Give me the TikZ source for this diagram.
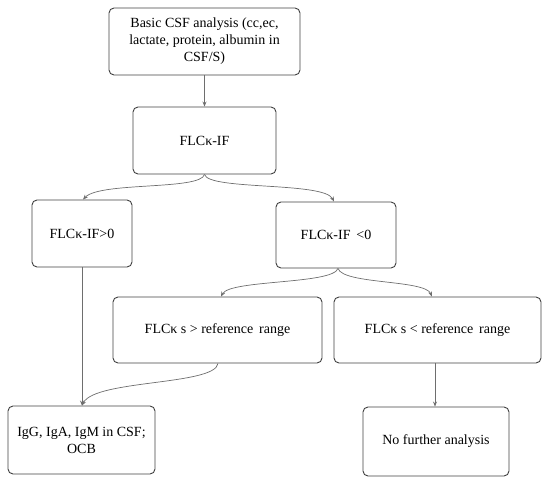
\documentclass[tikz,border=0pt]{standalone}
\usepackage{fontspec}
\setmainfont{Liberation Serif}
\usetikzlibrary{arrows.meta}
\definecolor{boxline}{HTML}{404040}
\definecolor{conn}{HTML}{6E6E6E}
\begin{document}
\begin{tikzpicture}[x=1pt,y=-1pt,
  box/.style={draw=boxline, line width=0.9pt, rounded corners=5pt, align=center,
    font=\fontsize{14}{17}\selectfont, inner sep=2pt},
  conn/.style={draw=conn, line width=0.7pt, -{Stealth[length=5pt,width=4pt]}}]
\useasboundingbox (0,0) rectangle (550,487);
\node[box, minimum width=191pt, minimum height=67pt] (b1) at (204.5,41.5)
  {Basic CSF analysis (cc,ec,\\lactate, protein, albumin in\\CSF/S)};
\node[box, minimum width=143pt, minimum height=67pt] (b2) at (204.5,140.5) {FLCκ-IF};
\node[box, minimum width=100pt, minimum height=67pt] (b3) at (82,233.5) {FLCκ-IF>0};
\node[box, minimum width=120pt, minimum height=66pt] (b4) at (336,235) {FLCκ-IF \,<0};
\node[box, minimum width=209pt, minimum height=66pt] (b5) at (217.5,330) {FLCκ s > reference\, range};
\node[box, minimum width=207pt, minimum height=66pt] (b6) at (437.5,330) {FLCκ s < reference\, range};
\node[box, minimum width=147pt, minimum height=68pt] (b7) at (81.5,440) {IgG, IgA, IgM in CSF;\\OCB};
\node[box, minimum width=146pt, minimum height=69pt] (b8) at (436,441.5) {No further analysis};

\draw[conn] (b1.south) -- (b2.north);
\draw[conn] (b2.south) .. controls +(-4,16) and +(17,-18) .. ([xshift=1pt]b3.north);
\draw[conn] (b2.south) .. controls +(4,16) and +(-10,-20) .. ([xshift=-2pt]b4.north);
\draw[conn] ([xshift=2pt]b4.south) .. controls +(-5,16) and +(9,-17) .. ([xshift=3.5pt]b5.north);
\draw[conn] ([xshift=2pt]b4.south) .. controls +(5,16) and +(-7,-17) .. ([xshift=-5.5pt]b6.north);
\draw[conn] (b3.south) -- ([xshift=0.5pt]b7.north);
\draw[conn] ([xshift=0.5pt]b5.south) .. controls +(-3,22) and +(13,-26) .. ([xshift=0.5pt]b7.north);
\draw[conn] ([xshift=-2.5pt]b6.south) -- ([xshift=-1pt]b8.north);
\end{tikzpicture}
\end{document}
